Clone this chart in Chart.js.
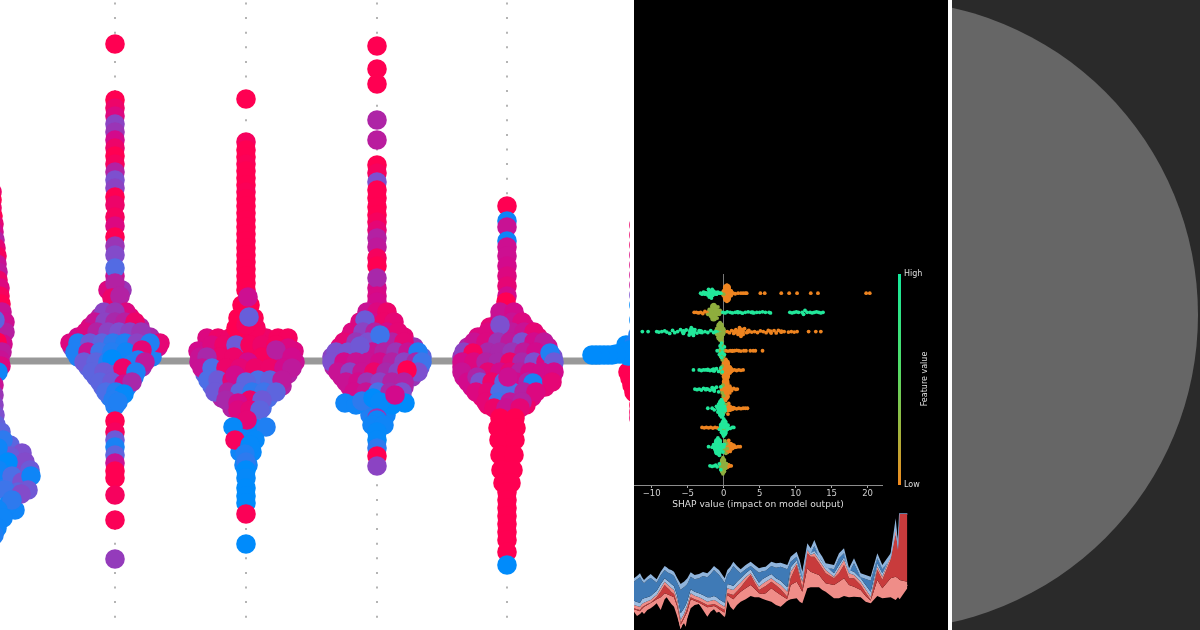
<!DOCTYPE html>
<html><head><meta charset="utf-8">
<script src="https://cdn.jsdelivr.net/npm/chart.js@4"></script>
<style>
html,body{margin:0;padding:0;background:#fff;overflow:hidden;width:1200px;height:630px}
canvas{position:absolute;display:block}
#blackPanel{position:absolute;left:634px;top:0;width:314px;height:630px;background:#000}
#shap,#band{filter:blur(.55px)}
#swarm{filter:blur(.3px)}
</style></head><body>
<div id="blackPanel"></div>
<canvas id="swarm" width="634" height="630" style="left:0;top:0"></canvas>
<canvas id="shap" width="314" height="252" style="left:634px;top:264px"></canvas>
<canvas id="bar" width="63" height="232" style="left:885px;top:264px"></canvas>
<canvas id="band" width="290" height="120" style="left:634px;top:510px"></canvas>
<canvas id="disc" width="248" height="630" style="left:952px;top:0"></canvas>
<script>
// ---------- beeswarm values: [position, level, feature value] ----------
const swarmTicks=[115,246,377,507];
const baselineX=[0,600];
const baselineY=[361,361];
const underA=[[10,445,.3],[20,460,.35],[16,470,.1],[25,478,.2],[12,488,.2],[15,510,.05],[-3,460,.05],[5,475,.1],[10,495,.1],[18,478,.3],[24,470,.4]];
const underB=[[100,317,.6],[112,317,.5],[130,317,.85],[90,327,.8],[102,327,.7],[116,327,.5],[128,327,.5],[140,327,.6],[78,337,.75],[88,337,.7],[100,337,.35],[112,337,.4],[124,337,.35],[136,337,.45],[150,337,.55],[72,347,.5],[84,347,.35],[96,347,.3],[108,347,.15],[120,347,.1],[132,347,.3],[146,347,.8],[158,347,.75],[78,357,.1],[90,357,.3],[102,357,.2],[114,357,.1],[126,357,.15],[140,357,.15],[152,357,.1],[88,367,.3],[100,367,.35],[112,367,.3],[124,367,.9],[134,367,.12],[142,367,.55],[96,377,.3],[108,377,.35],[120,377,.8],[134,377,.1],[103,387,.3],[115,387,.2],[127,387,.1],[110,397,.15],[120,397,.05],[115,406,.1]];
const underC=[[207,338,.8],[218,338,.9],[230,338,.9],[242,338,.95],[254,338,.95],[266,338,.9],[278,338,.95],[288,338,.95],[198,351,.75],[210,351,.7],[226,351,.85],[240,351,.9],[255,351,.95],[268,351,.9],[284,351,.8],[294,351,.8],[199,362,.7],[215,362,.4],[230,362,.9],[245,362,.85],[260,362,.95],[275,362,.8],[288,362,.7],[295,362,.7],[205,374,.3],[220,374,.6],[235,374,.8],[250,374,.75],[265,374,.85],[280,374,.65],[288,374,.6],[212,386,.3],[225,386,.75],[238,386,.45],[250,386,.2],[262,386,.2],[275,386,.35],[282,386,.6],[222,398,.6],[234,398,.55],[246,398,.25],[258,398,.3],[268,398,.25],[232,408,.6],[244,408,.85],[256,408,.7],[262,408,.25],[240,425,.02],[252,425,.05],[246,432,.85],[238,432,.02],[254,432,.02],[246,440,.05],[240,452,.05],[252,452,.02],[244,465,.05],[248,465,.05]];
const underD=[[362,327,.8],[374,327,.7],[385,327,.85],[392,327,.85],[350,337,.8],[362,337,.5],[374,337,.65],[388,337,.7],[398,337,.8],[404,337,.85],[340,347,.8],[352,347,.45],[366,347,.55],[380,347,.6],[394,347,.6],[406,347,.7],[414,347,.5],[332,357,.45],[346,357,.4],[360,357,.7],[374,357,.75],[388,357,.55],[402,357,.6],[414,357,.6],[422,357,.3],[334,367,.6],[348,367,.5],[362,367,.65],[376,367,.8],[390,367,.5],[404,367,.5],[420,367,.35],[342,377,.7],[356,377,.7],[370,377,.55],[384,377,.5],[398,377,.55],[412,377,.5],[350,387,.75],[362,387,.65],[376,387,.5],[390,387,.55],[404,387,.55],[352,397,.7],[364,397,.7],[376,397,.6],[390,397,.6],[402,397,.5],[370,415,.1],[386,415,.05]];
const underE=[[500,318,.7],[508,318,.75],[516,318,.8],[490,327,.85],[503,327,.5],[516,327,.7],[525,327,.75],[478,337,.8],[490,337,.8],[504,337,.5],[518,337,.75],[530,337,.7],[538,337,.85],[468,347,.6],[480,347,.75],[494,347,.55],[508,347,.75],[522,347,.6],[536,347,.7],[548,347,.7],[462,357,.5],[476,357,.85],[490,357,.6],[504,357,.55],[518,357,.7],[532,357,.5],[546,357,.7],[553,357,.4],[462,367,.7],[476,367,.7],[490,367,.7],[504,367,.7],[518,367,.65],[532,367,.45],[546,367,.8],[553,367,.7],[464,377,.72],[478,377,.65],[492,377,.85],[506,377,.75],[520,377,.7],[534,377,.7],[552,377,.75],[472,387,.75],[486,387,.85],[500,387,.55],[514,387,.65],[528,387,.65],[545,387,.85],[482,397,.85],[494,397,.8],[508,397,.5],[520,397,.6],[532,397,.8],[488,405,.9],[500,405,.5],[512,405,.7],[526,405,.9],[507,418,1],[507,430,1],[507,445,1],[507,460,1],[507,475,1]];
const underF=[[639,235,.9],[639,255,.8],[639,275,.75],[639,295,.4],[639,412,.95],[628,372,1],[632,385,1],[596,355,0],[604,355,0],[612,355,0],[620,354,0],[626,345,0],[628,356,0]];
const swarmA=[[-8,192,.9],[-8,200,1],[-8,208,.9],[-7,216,1],[-6,224,.85],[-6,232,.75],[-5,240,.6],[-4,248,.85],[-3,256,.95],[-3,264,.7],[-2,272,.65],[-2,280,.9],[0,288,.8],[0,296,.95],[1,304,1],[2,312,.7],[5,322,.72],[5,332,.62],[-5,320,.3],[3,344,.75],[-3,342,1],[2,352,.65],[0,360,.7],[1,366,.8],[-2,372,.05],[-6,385,.7],[-6,395,.5],[-6,405,.45],[-5,415,.4],[-4,425,.32],[1,432,.3],[3,440,.15],[22,453,.4],[10,456,.35],[25,462,.42],[30,470,.35],[-2,448,.05],[8,462,0],[-2,470,.05],[12,476,.25],[22,482,.4],[31,476,.05],[18,492,.3],[5,490,.2],[28,490,.36],[21,494,.42],[8,505,.05],[12,500,.15],[-2,510,.05],[3,518,.05],[-3,528,.05],[-6,535,.1]];
const swarmB=[[115,44,1],[115,100,1],[115,108,.9],[115,116,.8],[115,124,.45],[115,132,.5],[115,140,.75],[115,148,.9],[115,156,1],[115,164,.95],[115,172,.6],[115,180,.4],[115,188,.45],[115,197,1],[115,205,.9],[115,217,.95],[115,226,.8],[115,237,1],[115,246,.5],[115,255,.42],[115,276,.7],[115,268,.27],[108,290,.8],[122,290,.5],[115,283,.6],[112,298,.9],[120,296,.6],
[104,312,.45],[126,312,.8],[115,312,.5],[95,322,.7],[105,322,.45],[115,322,.55],[125,322,.62],[135,322,.9],[86,332,.8],[97,332,.6],[108,332,.45],[119,332,.4],[130,332,.45],[141,332,.5],[70,343,.8],[78,343,.1],[90,343,.35],[102,343,.3],[113,343,.15],[125,343,.1],[137,343,.45],[160,343,.85],[75,352,.1],[88,352,.7],[100,352,.2],[112,352,.12],[126,352,.05],[150,343,.1],[142,350,.85],[138,360,.1],[84,362,.35],[96,362,.3],[108,362,.12],[120,364,.05],[132,364,.1],[145,362,.65],[112,359,0],[92,372,.3],[104,372,.35],[116,374,.35],[123,368,.9],[136,372,.1],[100,382,.3],[112,382,.35],[124,384,.75],[132,382,.55],[106,392,.25],[116,392,.12],[124,394,.02],[113,400,.12],[118,402,.1],
[115,421,1],[115,432,.95],[115,440,.35],[115,447,.08],[115,455,.3],[115,463,.7],[115,471,1],[115,478,1],[115,495,.95],[115,520,.98],[115,559,.48]];
const swarmC=[[246,99,1],[246,142,.95],[246,150,1],[246,157,1],[246,164,.98],[246,171,1],[246,178,1],[246,185,1],[246,192,.98],[246,199,1],[246,206,1],[246,213,1],[246,220,1],[246,227,1],[246,234,1],[246,241,1],[246,248,1],[246,255,1],[246,262,1],[246,269,1],[246,276,1],[246,283,1],[246,290,1],[242,305,1],[250,305,1],[238,318,1],[254,318,1],[236,328,1],[256,328,.95],[246,325,.95],[248,297,.72],[249,317,.33],
[212,345,.8],[224,345,.9],[236,345,.35],[250,345,.95],[262,345,.9],[276,345,.95],[288,348,.8],[200,357,.7],[220,357,.9],[234,357,.9],[262,357,.95],[276,350,.62],[292,357,.75],[207,357,.55],[248,362,.75],[202,368,.7],[212,368,.25],[226,368,.9],[240,368,.85],[255,368,.9],[270,368,.9],[284,368,.75],[292,368,.65],[208,380,.25],[218,380,.35],[232,380,.85],[258,380,.25],[270,380,.3],[282,380,.65],[235,375,.75],[246,382,.3],[215,392,.35],[228,392,.6],[240,392,.3],[252,392,.15],[264,392,.2],[276,392,.3],[226,400,.55],[250,400,.9],[262,400,.35],[238,403,.75],[238,410,.8],[250,410,.85],[260,410,.3],[247,420,.85],
[233,427,.02],[266,427,.1],[240,440,.05],[235,440,.95],[255,440,.02],[250,445,.02],[245,454,.1],[246,462,.15],[246,470,0],[246,478,.02],[246,488,0],[246,496,0],[246,503,0],[246,514,.98],[246,544,0]];
const swarmD=[[377,46,1],[377,69,1],[377,84,1],[377,120,.58],[377,140,.63],[377,165,1],[377,173,.95],[377,182,.4],[377,190,1],[377,198,1],[377,207,1],[377,215,1],[377,222,.95],[377,230,.85],[377,238,.6],[377,247,.65],[377,258,.95],[377,266,1],[377,288,.75],[377,278,.55],[377,296,.78],[377,302,.75],
[367,312,.7],[377,312,.8],[387,312,.9],[360,322,.8],[372,322,.75],[384,322,.9],[394,322,.85],[365,320,.35],[352,332,.8],[363,332,.45],[375,332,.6],[387,332,.75],[398,332,.85],[344,342,.85],[356,342,.5],[368,342,.4],[392,342,.6],[404,342,.85],[380,335,.2],[336,352,.4],[348,352,.38],[372,352,.7],[384,352,.6],[396,352,.5],[408,352,.7],[418,352,.1],[360,346,.36],[332,362,.4],[344,362,.75],[356,362,.7],[368,362,.7],[380,362,.75],[392,362,.6],[404,362,.45],[416,362,.55],[422,362,.2],[338,372,.7],[350,372,.45],[362,372,.7],[374,372,.9],[386,372,.55],[398,372,.45],[418,372,.4],[407,370,1],[346,382,.7],[358,382,.75],[367,382,.5],[380,382,.45],[392,382,.6],[404,382,.6],[354,392,.75],[366,392,.7],[378,392,.25],[390,392,.55],[402,392,.4],
[345,403,.05],[356,405,.05],[405,403,0],[392,405,0],[362,401,.15],[373,398,0],[380,402,.02],[395,395,.75],[377,418,.5],[377,420,.05],[372,425,.05],[384,425,.05],[377,432,.02],[377,440,.02],[377,448,.15],[377,456,1],[377,466,.45]];
const swarmE=[[507,206,1],[507,221,.05],[507,227,.7],[507,241,.05],[507,247,.72],[507,256,.72],[507,266,.75],[507,276,.8],[507,286,.85],[507,296,.75],[506,302,1],
[500,312,.7],[514,312,.75],[512,322,.7],[522,322,.8],[488,332,.8],[512,332,.65],[524,332,.7],[534,332,.85],[500,325,.4],[474,342,.7],[486,342,.8],[498,342,.5],[510,342,.65],[522,342,.4],[534,342,.75],[544,342,.65],[464,352,.45],[488,352,.55],[500,352,.55],[512,352,.5],[524,352,.65],[536,352,.75],[473,353,.95],[462,362,.75],[474,362,.8],[486,362,.6],[498,362,.55],[510,362,.9],[522,362,.55],[534,362,.4],[546,362,.8],[550,353,.1],[554,362,.35],[462,372,.7],[488,372,.85],[500,372,.75],[510,372,.85],[520,372,.6],[530,372,.75],[542,372,.75],[554,372,.75],[468,382,.75],[477,377,.58],[480,382,.4],[492,382,.9],[504,382,.3],[516,382,.75],[528,382,.6],[533,383,.08],[552,382,.85],[476,392,.8],[488,392,.85],[500,392,.25],[512,392,.25],[508,377,.72],[524,392,.6],[536,392,.8],[486,402,.85],[498,402,.2],[510,402,.65],[522,402,.6],[494,408,.9],[506,408,.7],[520,408,.85],
[500,418,1],[515,418,1],[498,428,1],[516,428,1],[499,440,1],[515,440,1],[500,455,1],[514,455,1],[501,470,1],[513,470,1],[503,483,1],[511,483,1],[507,492,1],[507,500,1],[507,508,1],[507,516,1],[507,524,1],[507,532,1],[507,540,1],[507,552,1],[507,565,0]];
const swarmF=[[639,225,.9],[639,245,.9],[639,265,.8],[639,285,.7],[639,405,1],[639,418,.9],[634,392,1],[630,378,1],[639,305,0],[639,320,0],[638,335,.1],[634,344,.1],[630,350,0],[624,353,0],[616,354,0],[608,355,0],[600,355,0],[592,355,0]];

// ---------- SHAP summary: per row [impact, offset within the row] ----------
const shapTickValues=[-10,-5,0,5,10,15,20];
const shapAxisTitle='SHAP value (impact on model output)';
const greenRows=[
[[-3.2,0],[-3,.05],[-2.8,-.05],[-2.6,.05],[-2.4,0],[-2.2,.1],[-2.1,-.2],[-2,.2],[-1.9,-.1],[-1.8,0],[-1.7,.25],[-1.6,-.2],[-1.5,.1],[-1.4,-.1],[-1.2,0],[-1,.05],[-.8,-.05],[-.6,0],[-.4,0]],
[[-.1,0],[.2,.03],[.5,-.03],[.9,0],[1.2,.03],[1.6,0],[1.9,-.03],[2.3,0],[2.6,.04],[3,0],[3.4,-.03],[3.8,0],[4.2,.03],[4.6,0],[5,0],[5.4,-.03],[5.8,0],[6.3,0],[6.5,.03],[9.2,0],[9.5,.03],[9.8,0],[10.1,-.03],[10.4,0],[10.9,0],[11.1,.1],[11.3,-.1],[11.6,0],[12,0],[12.3,.03],[12.6,0],[12.9,-.03],[13.2,0],[13.5,.03],[13.8,0]],
[[-11.3,0],[-10.5,0],[-9.3,0],[-9,.03],[-8.6,0],[-8.2,-.03],[-7.9,.03],[-7.5,.1],[-7.1,-.06],[-6.8,.06],[-6.4,0],[-6,-.1],[-5.6,.1],[-5.2,-.08],[-4.8,.18],[-4.5,-.2],[-4.4,.05],[-4.2,.2],[-4,-.1],[-3.7,.08],[-3.4,-.05],[-3,.05],[-2.6,0],[-2.2,.05],[-1.8,-.05],[-1.4,.05],[-1.1,0]],
[[-.9,0],[-.6,.2],[-.5,-.25],[-.3,.35],[-.3,-.4],[-.2,.1],[-.2,-.1],[.1,.2],[.1,-.2]],
[[-4.2,0],[-3.4,0],[-3.1,.03],[-2.8,0],[-2.5,0],[-2.2,-.03],[-1.9,.03],[-1.6,0],[-1.3,.05],[-1,-.06],[-.7,.08],[-.4,-.1],[-.2,.1]],
[[-4,0],[-3.7,.03],[-3.4,0],[-3.1,.05],[-2.8,-.04],[-2.5,.03],[-2.2,0],[-1.9,.06],[-1.6,-.08],[-1.3,.1],[-1,-.1],[-.7,.14],[-.4,-.12]],
[[-2.2,0],[-1.6,0],[-1.3,.08],[-1,-.1],[-.8,.2],[-.7,-.22],[-.5,.32],[-.5,-.3],[-.3,.45],[-.3,-.45],[-.3,.1],[-.3,-.12],[-.1,.28],[-.1,-.28],[0,.1],[.1,-.1],[.2,.12]],
[[-.6,.1],[-.4,-.15],[-.3,.25],[-.2,-.25],[0,.45],[0,-.45],[.05,.2],[.05,-.2],[.05,0],[.3,.28],[.3,-.28],[.5,.1],[.6,-.12],[.9,.05],[1.2,0],[1.4,0]],
[[-2.1,0],[-1.6,.03],[-1.4,-.1],[-1.2,.15],[-1,-.25],[-.9,.35],[-.8,-.45],[-.8,.1],[-.8,-.12],[-.6,.45],[-.5,-.3],[-.4,.2],[-.3,-.1],[-.1,.28],[.1,-.12]],
[[-1.9,0],[-1.6,.03],[-1.3,0],[-1.1,-.03],[-.9,.05],[-.6,-.1],[-.4,.2]]
];
const oliveRows=[
[[0,.05]],
[[-2.2,.1],[-2,-.15],[-1.8,.2],[-1.6,-.28],[-1.5,.05],[-1.4,.35],[-1.36,-.4],[-1.2,.15],[-1.1,-.1],[-.9,.3],[-.8,-.28],[-.6,.1],[-.5,-.1],[-.3,0]],
[[-1,.12],[-.9,-.15],[-.7,.3],[-.7,-.32],[-.5,.45],[-.5,-.47],[-.5,.1],[-.5,-.1],[-.3,.3],[-.3,-.28],[-.1,.15],[0,-.12]],
[[-.5,0],[-.4,.3],[-.2,.47],[-.2,-.47],[-.1,-.25],[-.1,0],[0,.3]],
[[-.3,.15],[-.2,-.2]],
[[-.2,.2],[-.1,-.2],[0,.35]],
[[.1,.2],[.3,-.2]],
[[.1,.1]],
[[.1,.2],[.2,-.3],[.3,.35],[.4,-.15],[.5,.1]],
[[-.3,-.2],[-.2,.3],[-.1,.42],[-.1,-.42],[0,.12],[0,-.12],[.1,.28],[.1,-.3],[.3,.1],[.4,-.1]]
];
const orangeRows=[
[[.45,.42],[.45,-.42],[.45,.22],[.45,-.22],[.45,0],[.15,.15],[.15,-.15],[.75,.28],[.75,-.28],[.8,0],[1.05,.12],[1.05,-.12],[1.3,0],[1.6,.03],[2,0],[2.4,0],[2.7,0],[3,0],[3.2,0],[5.1,0],[5.7,0],[8,0],[9.1,0],[10.2,0],[12.1,0],[13.1,0],[19.8,0],[20.3,0]],
[[-4.1,0],[-3.8,0],[-3.5,.03],[-3.2,0],[-2.9,.06],[-2.6,-.05],[-2.3,.02]],
[[.5,0],[.8,.06],[1.1,-.05],[1.4,.1],[1.7,-.1],[2,.15],[2.2,-.2],[2.4,.25],[2.5,-.05],[2.7,.15],[2.9,-.15],[3.2,.06],[3.5,-.06],[3.9,.03],[4.3,0],[4.7,.05],[5.1,-.03],[5.5,0],[5.9,.06],[6.2,-.06],[6.6,.08],[7,-.05],[7.3,.07],[7.6,-.06],[8,.03],[8.4,0],[9,.03],[9.4,0],[9.8,.03],[10.2,0],[11.8,0],[12.8,0],[13.5,0]],
[[.3,0],[.6,.02],[.9,0],[1.2,.02],[1.5,0],[1.8,-.02],[2.1,0],[2.4,.02],[2.8,0],[3.1,0],[3.7,0],[4.1,0],[4.4,0],[5.4,0]],
[[.3,.55],[.3,-.55],[.3,.35],[.3,-.35],[.3,.15],[.3,-.15],[.3,0],[0,.2],[0,-.2],[.6,.3],[.6,-.3],[.6,0],[.9,.15],[.9,-.15],[1.2,.03],[1.5,0],[1.8,.03],[2.1,0],[2.4,.02],[2.7,0]],
[[.27,.6],[.27,-.5],[.27,.35],[.27,-.3],[.27,.12],[.27,-.1],[.55,.4],[.55,-.3],[.55,.1],[.85,.2],[.85,-.15],[1.1,.08],[1.4,-.03],[1.7,.02],[1.9,0]],
[[.5,.12],[.5,-.12],[.6,.3],[.7,-.25],[.9,.1],[.9,-.1],[1.2,.05],[1.5,0],[1.8,.03],[2.1,0],[2.4,.02],[2.7,0],[3,0],[3.3,0]],
[[-3,0],[-2.7,.02],[-2.4,0],[-2.1,.02],[-1.8,0],[-1.5,.03],[-1.2,0],[-.9,.02]],
[[.5,.3],[.7,-.32],[.7,.1],[.9,.25],[1,-.15],[1.2,.1],[1.4,-.08],[1.7,.03],[2,0],[2.3,0]],
[[.5,.08],[.7,-.05],[.85,0],[1.05,0]]
];
// dense centres of the rows: [impact, row, extent]
const greenClusters=[[-1.75,0,4.2],[-1.1,0,2.6],[-2.6,0,2.4],[-.7,2,2.5],[-4.4,2,4],[-3.2,2,2.6],[-5.6,2,2.6],[-.3,3,3.5],[-.3,3.25,2.5],[-.3,2.75,2.5],[-.3,6,5.5],[-.3,6.3,3.5],[-.3,5.7,3.5],[.05,7,5.5],[.05,7.3,3.2],[.05,6.7,3],[-.8,8,5.5],[-.8,8.25,4],[-.8,7.75,4],[-.2,8,3.5],[-1.4,4,2.6],[-2.2,4,2],[-1.4,5,2.6],[-2.4,5,2.2],[2,1,2.2],[4,1,2.2]];
const oliveClusters=[[-1.4,1,5.5],[-1.4,1.3,3.5],[-1.4,.7,3.5],[-.9,1,3.8],[-2,1,2.8],[-.5,2,6],[-.5,2.3,3.8],[-.5,1.7,3.8],[-.2,3,2.4],[0,9,5],[-.1,9.28,3],[-.1,8.72,3]];
const orangeClusters=[[.45,0,6],[.45,-.28,4],[.45,.28,4],[1,0,3],[2.4,2,4],[1.6,2,2.6],[3.4,2,2.4],[6.5,2,2.2],[8,2,2.2],[.3,4,6.5],[.3,4.35,4.2],[.3,3.65,4.2],[.9,4,3.5],[-.2,4,3.2],[.27,5,6],[.27,5.38,4.2],[.27,4.62,3.8],[.8,5,3],[.6,6,3.8],[1.3,6,2.4],[.9,8,4.5],[.5,8,5],[1.4,8,2.6],[.6,9,2.6],[1.2,3,2]];

// ---------- colour bar ----------
const barLabels=['Low','High'];
const barTitle='Feature value';

// ---------- bottom band chart: shared positions and band edges ----------
const bandX=[0,9,18,24,30,40,50,59,68,80,92,98,105,112,120,130,140,145,150,155,160,170,182,195,207,220,230,240,248,255,272,280,289,298,309,320,335,350,362,375,385,395,412,426,440,460,470,488,497,505,520,530,541,555,565,575,600,615,630,645,660,680,695,710,730,745,770,785,792,797,820];
const bandTop=[205,198,190,202,210,200,192,200,208,185,168,172,178,180,185,205,222,218,215,210,205,187,195,192,186,190,180,168,175,180,205,180,170,155,168,178,165,155,165,175,172,170,155,160,158,165,140,125,150,185,100,115,90,125,140,160,165,130,115,175,145,190,195,200,130,165,130,25,100,12,12];
const steelTop=[215,208,202,212,220,210,204,211,218,196,180,185,190,192,198,218,240,235,232,227,222,200,208,205,198,202,192,180,188,194,218,194,184,168,180,190,178,168,178,188,184,182,168,173,170,178,155,140,165,200,118,130,108,140,155,172,178,145,130,188,160,202,207,212,145,178,145,60,120,12,12];
const steelBottom=[272,276,278,268,265,262,258,250,242,222,205,210,215,222,228,258,310,302,295,285,272,238,245,250,255,262,262,258,262,268,278,222,224,228,215,205,190,178,198,218,208,202,192,205,212,232,172,150,180,205,120,130,122,140,155,168,190,165,142,180,185,205,225,245,160,190,138,60,100,12,12];
const pinkTop=[285,288,290,282,278,274,270,262,255,235,215,221,228,234,240,270,330,320,312,298,285,250,257,262,268,275,272,270,274,280,290,235,238,240,228,218,202,190,210,230,222,215,205,216,225,245,185,160,190,215,120,135,130,150,165,180,200,175,150,190,195,215,238,260,170,200,140,60,100,12,12];
const redTop=[295,298,300,292,288,282,278,270,262,245,225,232,238,246,252,285,340,330,320,308,295,262,268,272,278,285,284,282,286,290,300,250,252,255,244,232,212,195,218,240,234,228,215,226,238,260,205,165,200,235,130,140,140,160,175,190,205,190,165,205,205,225,248,270,180,210,150,75,110,12,12];
const redBottom=[298,301,304,296,290,285,279,274,268,262,250,252,255,258,262,290,345,335,325,315,305,268,272,278,284,292,290,288,292,298,308,255,262,268,256,245,235,225,236,250,252,250,235,245,255,268,225,215,230,245,175,185,190,195,208,220,225,215,205,225,230,240,258,272,210,235,205,200,205,210,215];
const bandBottom=[305,318,312,305,312,300,295,288,280,300,268,262,272,282,290,320,358,345,340,350,325,295,285,282,300,320,305,298,308,305,322,270,290,300,285,275,268,258,262,262,266,270,275,285,290,272,268,265,275,280,235,232,232,232,240,245,265,265,258,262,260,262,275,280,258,265,262,270,262,268,235];
const blueStreak=[245,240,238,240,242,236,232,228,226,210,192,198,203,207,212,238,275,268,262,255,248,220,225,228,226,232,228,220,226,232,248,208,204,198,197,197,184,173,188,203,196,192,180,189,192,205,163,145,172,202,119,130,115,140,148,170,184,155,136,184,172,203,216,228,152,184,141,60,110,12,12];
const pinkStreak=[301,309,308,300,301,292,287,281,274,281,259,257,263,270,276,305,351,340,332,332,315,281,278,280,292,306,297,293,300,301,315,262,276,284,270,260,251,241,249,256,259,260,255,265,272,270,246,240,252,262,205,208,211,213,224,232,245,240,231,243,245,251,266,276,234,250,233,235,233,239,225];

// ---------- right panel disc ----------
const discX=[883];
const discY=[315];

// ---------- drawing ----------
Chart.defaults.font.family='"DejaVu Sans"';
Chart.defaults.animation=false;
Chart.defaults.responsive=false;
Chart.defaults.devicePixelRatio=1;
Chart.defaults.layout.autoPadding=false;
Chart.defaults.plugins.legend.display=false;
Chart.defaults.plugins.tooltip.enabled=false;

const stops=[[0,[0,139,251]],[.25,[77,111,230]],[.4,[125,80,207]],[.55,[168,40,170]],[.75,[211,10,140]],[1,[255,0,82]]];
function heat(f){
  for(let i=1;i<stops.length;i++){
    if(f<=stops[i][0]){
      const a=stops[i-1],b=stops[i],t=(f-a[0])/(b[0]-a[0]);
      return 'rgb('+a[1].map((v,k)=>Math.round(v+(b[1][k]-v)*t)).join(',')+')';
    }
  }
  return 'rgb(255,0,82)';
}
const swarmSet=(rows,order)=>({type:'scatter',order,data:rows.map(r=>({x:r[0],y:r[1],f:r[2]})),pointRadius:9.8,pointBorderWidth:0,
  pointBackgroundColor:c=>c.raw?heat(c.raw.f):'#000'});
new Chart(document.getElementById('swarm'),{
  type:'scatter',
  data:{datasets:[
    {type:'line',order:9,data:baselineX.map((x,i)=>({x,y:baselineY[i]})),borderColor:'#999999',borderWidth:7,pointRadius:0},
    swarmSet(underA,6),swarmSet(underB,6),swarmSet(underC,6),swarmSet(underD,6),swarmSet(underE,6),swarmSet(underF,6),
    swarmSet(swarmA,5),swarmSet(swarmB,5),swarmSet(swarmC,5),swarmSet(swarmD,5),swarmSet(swarmE,5),swarmSet(swarmF,5)
  ]},
  options:{
    layout:{padding:{left:0,right:4,top:0,bottom:0}},
    scales:{
      x:{type:'linear',min:0,max:630,afterBuildTicks:s=>{s.ticks=swarmTicks.map(value=>({value}));},
        ticks:{display:false},
        grid:{color:'#b4b4b4',lineWidth:2,drawTicks:false},
        border:{display:false,dash:[2,12.6],dashOffset:-2.5}},
      y:{type:'linear',min:0,max:630,reverse:true,display:false}
    }
  }
});

const shapSet=(rows,color)=>({type:'scatter',data:rows.flatMap((row,i)=>row.map(p=>({x:p[0],y:i+p[1]}))),pointRadius:1.9,pointBorderWidth:0,pointBackgroundColor:color});
const clusterSet=(rows,color)=>({type:'bubble',data:rows.map(r=>({x:r[0],y:r[1],r:r[2]})),borderWidth:0,backgroundColor:color});
new Chart(document.getElementById('shap'),{
  type:'scatter',
  data:{datasets:[
    shapSet(greenRows,'#22e79a'),shapSet(oliveRows,'#8fae3e'),shapSet(orangeRows,'#ee8420'),
    clusterSet(greenClusters,'#22e79a'),clusterSet(oliveClusters,'#8fae3e'),clusterSet(orangeClusters,'#ee8420')
  ]},
  options:{
    layout:{padding:{left:0,right:66,top:10,bottom:0}},
    scales:{
      x:{type:'linear',min:-12.46,max:22,
        afterBuildTicks:s=>{s.ticks=shapTickValues.map(value=>({value}));},
        afterFit:s=>{s.height=31;},
        ticks:{color:'#cfcfcf',font:{size:8.5},padding:1,maxRotation:0,autoSkip:false,callback:v=>String(v).replace('-','\u2212')},
        title:{display:true,text:shapAxisTitle,color:'#dedede',font:{size:9.1},padding:{top:0,bottom:6}},
        grid:{color:c=>c.tick&&c.tick.value===0?'#777777':'rgba(0,0,0,0)',tickColor:'#aaaaaa',tickLength:3,lineWidth:1},
        border:{color:'#8c8c8c',width:1}},
      y:{type:'linear',min:-1,max:10,reverse:true,display:false}
    }
  }
});

const barTitlePlugin={id:'barTitle',afterDraw(chart){
  const c=chart.ctx;c.save();c.translate(40,115);c.rotate(-Math.PI/2);
  c.fillStyle='#dedede';c.font='8px "DejaVu Sans"';c.textAlign='center';c.textBaseline='middle';
  c.fillText(barTitle,0,0);c.restore();
}};
new Chart(document.getElementById('bar'),{
  type:'bar',
  data:{labels:[barTitle],datasets:[{data:[[0,1]],barPercentage:1,categoryPercentage:1,borderWidth:0,
    backgroundColor:c=>{
      const a=c.chart.chartArea;if(!a)return '#888';
      const g=c.chart.ctx.createLinearGradient(0,a.top,0,a.bottom);
      g.addColorStop(0,'#14e89c');g.addColorStop(.45,'#52dc66');g.addColorStop(.72,'#98b840');g.addColorStop(1,'#f38a1e');
      return g;
    }}]},
  plugins:[barTitlePlugin],
  options:{
    layout:{padding:{left:13,right:0,top:10,bottom:11}},
    scales:{
      x:{display:false},
      y:{position:'right',min:0,max:1,
        afterBuildTicks:s=>{s.ticks=[{value:0},{value:1}];},
        afterFit:s=>{s.width=47;},
        ticks:{color:'#dedede',font:{size:8},padding:3,callback:v=>barLabels[v]},
        grid:{display:false,drawTicks:false},border:{display:false}}
    }
  }
});

const edge=(ys,fill,bg)=>({data:bandX.map((x,i)=>({x,y:ys[i]})),pointRadius:0,borderWidth:0,tension:0,fill,backgroundColor:bg,borderColor:'rgba(0,0,0,0)'});
const streak=(ys,color)=>({data:bandX.map((x,i)=>({x,y:ys[i]})),pointRadius:0,borderWidth:1.3,tension:0,fill:false,borderColor:color});
new Chart(document.getElementById('band'),{
  type:'line',
  data:{datasets:[
    edge(bandTop,false,'rgba(0,0,0,0)'),
    edge(steelTop,'-1','#8fb4dc'),
    edge(steelBottom,'-1','#3f7ab6'),
    edge(pinkTop,'-1','#9fbde0'),
    edge(redTop,'-1','#ef8d88'),
    edge(redBottom,'-1','#c83b3c'),
    edge(bandBottom,'-1','#ef8d88'),
    streak(blueStreak,'#78a5d3'),
    streak(pinkStreak,'#f6aea6')
  ]},
  options:{
    scales:{
      x:{type:'linear',min:0,max:870,display:false},
      y:{type:'linear',min:0,max:360,reverse:true,display:false}
    }
  }
});

new Chart(document.getElementById('disc'),{
  type:'scatter',
  data:{datasets:[{data:discX.map((x,i)=>({x,y:discY[i]})),pointRadius:315,pointBorderWidth:0,pointBackgroundColor:'#666666'}]},
  plugins:[{id:'panelBg',beforeDraw(ch){const c=ch.ctx;c.save();c.fillStyle='#2a2a2a';c.fillRect(0,0,ch.width,ch.height);c.restore();}}],
  options:{scales:{
    x:{type:'linear',min:952,max:1200,display:false},
    y:{type:'linear',min:0,max:630,reverse:true,display:false}
  }}
});
</script></body></html>
